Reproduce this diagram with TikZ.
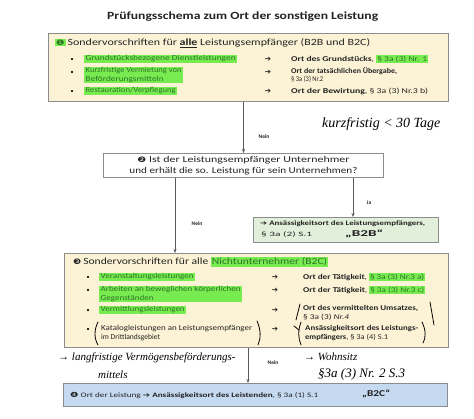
\documentclass[tikz,border=0pt]{standalone}
\usepackage{fontspec}
\usepackage{graphicx}
\setmainfont{Carlito}
\newfontfamily\sym{DejaVu Sans}
\newfontfamily\hand{Liberation Serif}
\usetikzlibrary{arrows.meta,calc}
\definecolor{ybg}{RGB}{252,243,214}
\definecolor{bord}{RGB}{140,140,140}
\definecolor{gbg}{RGB}{226,239,218}
\definecolor{bbg}{RGB}{197,217,241}
\definecolor{hl}{RGB}{120,235,80}
\definecolor{hltext}{RGB}{45,115,40}
\definecolor{txt}{RGB}{35,35,35}
\newcommand{\hlt}[1]{{\setlength{\fboxsep}{0.8pt}\colorbox{hl}{\color{hltext}#1}}}
\newcommand{\W}[2]{\resizebox{#1pt}{\height}{#2}}
\newcommand{\sarr}{{\sym\bfseries ➔}}
\begin{document}
\begin{tikzpicture}[x=1pt,y=-1pt,
  every node/.style={text=txt, inner sep=0pt},
  bigbox/.style={draw=bord, line width=1pt, anchor=north west, inner sep=0pt},
  item/.style={anchor=west, font=\fontsize{7.6}{8.2}\selectfont, align=left},
  hlitem/.style={item, fill=hl, text=hltext, inner xsep=1.5pt, inner ysep=1pt},
  right/.style={anchor=west, font=\fontsize{7.4}{8.2}\selectfont, align=left},
  bul/.style={fill=txt, minimum size=2.4pt, inner sep=0pt},
  arrw/.style={font=\sym\bfseries\fontsize{7.5}{8}\selectfont},
  conn/.style={draw=black!65, line width=0.6pt, -{Stealth[length=4pt,width=3pt]}},
  lbl/.style={font=\bfseries\fontsize{5.5}{7}\selectfont},
  handtxt/.style={font=\hand\itshape\fontsize{13}{13}\selectfont, text=black, anchor=west},
  handline/.style={draw=black, line width=0.8pt, line cap=round}]
\path[fill=white, use as bounding box] (0,0) rectangle (474,418);

% title
\node[anchor=west, font=\bfseries\fontsize{11}{13}\selectfont] (title) at (107,17) {\W{271}{Prüfungsschema zum Ort der sonstigen Leistung}};

% box 1
\node[bigbox, fill=ybg, minimum width=400pt, minimum height=68pt] (b1) at (48,33) {};
\node[anchor=west, font=\fontsize{9.5}{12}\selectfont] (h1) at (55,43) {\W{315}{\hlt{\sym\fontsize{7.5}{8}\selectfont ❶}\,Sondervorschriften für \textbf{\underline{alle}} Leistungsempfänger (B2B und B2C)}};
\node[bul] (b1u1) at (72,59) {};
\node[bul] (b1u2) at (72,72) {};
\node[bul] (b1u3) at (72,91) {};
\node[hlitem] (b1i1) at (84,59) {\W{150}{Grundstücksbezogene Dienstleistungen}};
\node[hlitem] (b1i2) at (84,75) {\W{96}{Kurzfristige Vermietung von}\\\W{78}{Beförderungsmitteln}};
\node[hlitem] (b1i3) at (84,91) {\W{90}{Restauration/Verpflegung}};
\node[arrw] (b1a1) at (268,59) {➔};
\node[arrw] (b1a2) at (268,72) {➔};
\node[arrw] (b1a3) at (268,91) {➔};
\node[right] (b1r1) at (291,59) {\W{137}{\textbf{Ort des Grundstücks}, \hlt{§ 3a (3) Nr. 1}}};
\node[right] (b1r2) at (291,75) {\W{106}{\textbf{Ort der tatsächlichen Übergabe,}}\\\W{32}{§ 3a (3) Nr.2}};
\node[right] (b1r3) at (291,91) {\W{137}{\textbf{Ort der Bewirtung}, § 3a (3) Nr.3 b)}};

% handwriting 1
\node[handtxt, font=\hand\itshape\fontsize{14}{14}\selectfont] (hw1) at (322,124) {kurzfristig < 30 Tage};

% box 2
\node[bigbox, fill=white, minimum width=280pt, minimum height=24pt] (b2) at (103,153) {};
\node[align=center, font=\fontsize{9}{10.5}\selectfont] (b2t) at (b2.center) {\W{212}{{\sym\fontsize{7.5}{8}\selectfont ❷} Ist der Leistungsempfänger Unternehmer}\\\W{228}{und erhält die so. Leistung für sein Unternehmen?}};

% connector box1 -> box2
\draw[conn] (b1.south -| b2.north) -- (b2.north);
\node[lbl] (n1) at (264,137) {Nein};

% B2B box
\node[bigbox, fill=gbg, minimum width=185pt, minimum height=25pt] (b2b) at (253,217) {};
\node[anchor=west, font=\fontsize{6.8}{8}\selectfont] (b2bt1) at (260,224) {\W{165}{{\sym\bfseries\fontsize{6.5}{7}\selectfont ➔} \textbf{Ansässigkeitsort des Leistungsempfängers,}}};
\node[anchor=west, font=\fontsize{6.6}{8}\selectfont] (b2bt2) at (261,235) {\W{51}{§ 3a (2) S.1}};
\node[anchor=west, font=\bfseries\fontsize{9}{11}\selectfont] (b2bt3) at (345,234) {\W{38}{„B2B“}};

\coordinate (xl) at (175,0);
\coordinate (xr) at (353,0);
\coordinate (xm) at (248,0);

\draw[conn] (b2.south -| xr) -- (b2b.north -| xr);
\node[lbl] (ja) at (369,203) {Ja};

% box 3
\node[bigbox, fill=ybg, minimum width=384pt, minimum height=94pt] (b3) at (64,253) {};
\draw[conn] (b2.south -| xl) -- (b3.north -| xl);
\node[lbl] (n2) at (197,224) {Nein};

\node[anchor=west, font=\fontsize{9.5}{12}\selectfont] (h3) at (73,262) {\W{255}{{\sym\fontsize{7.5}{8}\selectfont ❸}\,Sondervorschriften für alle \hlt{Nichtunternehmer (B2C)}}};
\node[bul] (b3u1) at (88,277) {};
\node[bul] (b3u2) at (88,290) {};
\node[bul] (b3u3) at (88,310) {};
\node[bul] (b3u4) at (88,329) {};
\node[hlitem] (b3i1) at (99,277) {\W{93}{Veranstaltungsleistungen}};
\node[hlitem] (b3i2) at (99,294) {\W{140}{Arbeiten an beweglichen körperlichen}\\\W{53}{Gegenständen}};
\node[hlitem] (b3i3) at (99,310) {\W{84}{Vermittlungsleistungen}};
\node[item] (b3i4) at (101,333) {\W{151}{Katalogleistungen an Leistungsempfänger}\\\W{59}{im Drittlandsgebiet}};
\node[arrw] (b3a1) at (275,277) {➔};
\node[arrw] (b3a2) at (275,290) {➔};
\node[arrw] (b3a3) at (275,310) {➔};
\node[arrw] (b3a4) at (275,329) {➔};
\node[right] (b3r1) at (303,277) {\W{122}{\textbf{Ort der Tätigkeit}, \hlt{§ 3a (3) Nr.3 a)}}};
\node[right] (b3r2) at (303,290) {\W{122}{\textbf{Ort der Tätigkeit}, \hlt{§ 3a (3) Nr.3 c)}}};
\node[right] (b3r3) at (303,313) {\W{115}{\textbf{Ort des vermittelten Umsatzes,}}\\\W{46}{§ 3a (3) \textit{Nr.4}}};
\node[right] (b3r4) at (305,333) {\W{113}{\textbf{Ansässigkeitsort des Leistungs-}}\\\W{83}{\textbf{empfängers}, § 3a (4) S.1}};

% handwritten marks in box 3
\draw[handline] (296,320) -- (300,304);
\draw[handline] (430,302) -- (434,325);
\draw[handline] (98,322) .. controls (94,330) and (94,338) .. (98,345);
\draw[handline] (257,321) .. controls (261,330) and (261,338) .. (258,345);
\draw[handline] (294,326) -- (299,330);
\draw[handline] (301,322) .. controls (298,330) and (298,338) .. (301,345);
\draw[handline] (422,322) .. controls (426,330) and (426,338) .. (423,343);

% handwriting 2
\node[handtxt, font=\hand\itshape\fontsize{11}{11}\selectfont] (hw2) at (58,358) {→ langfristige Vermögensbeförderungs-};
\node[handtxt, font=\hand\itshape\fontsize{11}{11}\selectfont] (hw3) at (98,375) {mittels};
\node[handtxt, font=\hand\itshape\fontsize{11}{11}\selectfont] (hw4) at (304,357) {→ Wohnsitz};
\node[handtxt, font=\hand\itshape\fontsize{13}{13}\selectfont] (hw5) at (318,374) {§3a (3) Nr. 2 S.3};

% box 4
\node[bigbox, fill=bbg, minimum width=384pt, minimum height=23pt] (b4) at (63,383) {};
\draw[conn] (b3.south -| xm) -- (b4.north -| xm);
\node[lbl] (n3) at (273,363) {Nein};
\node[anchor=west, font=\fontsize{6.8}{8}\selectfont] (b4t) at (70,395) {\W{248}{{\sym\fontsize{7}{7}\selectfont ❹} Ort der Leistung {\sym\bfseries\fontsize{6.5}{7}\selectfont ➔} \textbf{Ansässigkeitsort des Leistenden}, § 3a (1) S.1}};
\node[anchor=west, font=\bfseries\fontsize{9}{11}\selectfont] (b4t2) at (362,394) {\W{28}{„B2C“}};
\end{tikzpicture}
\end{document}
